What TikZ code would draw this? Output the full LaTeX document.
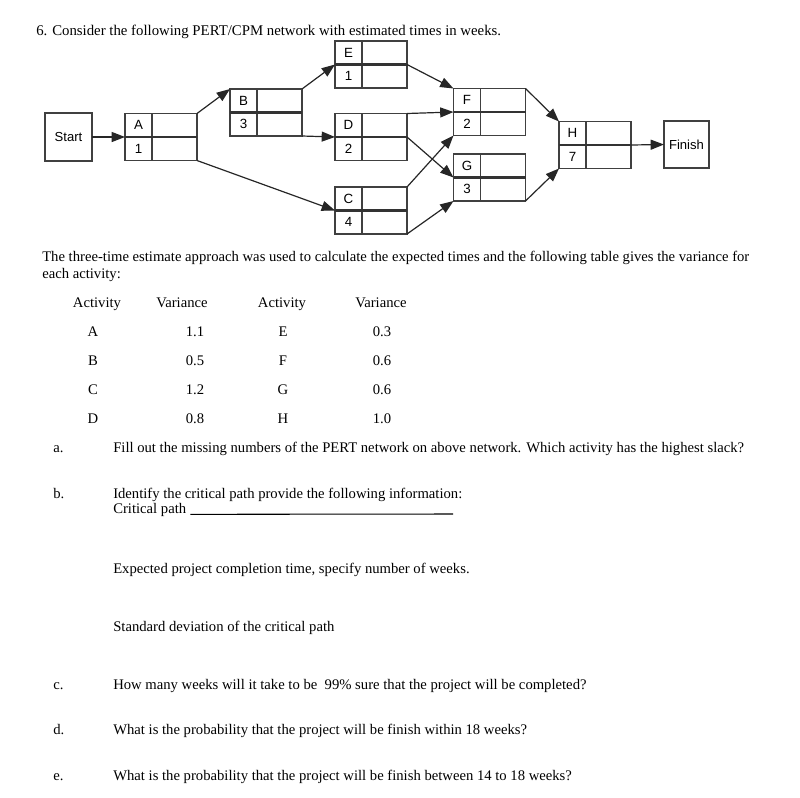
\documentclass[tikz,border=0pt]{standalone}
\usepackage{fontspec}
\setmainfont{Liberation Serif}
\newfontfamily\arial{Liberation Sans}
\usetikzlibrary{arrows.meta}
\begin{document}
\begin{tikzpicture}[x=0.75pt,y=-0.75pt]
% Styles
\tikzstyle{fleche}=[-{Triangle[length=10pt,width=7.5pt]},line width=0.9pt,black!85]
\tikzstyle{boite}=[draw=black!75,line width=1.1pt,minimum width=54pt,minimum height=35.25pt,inner sep=0pt,outer sep=0pt]
\tikzstyle{carre}=[boite,minimum width=35pt,font=\arial\fontsize{9.8}{11}\selectfont]
\tikzstyle{trait}=[draw=black!75,line width=1.1pt]
\tikzstyle{milieu}=[draw=black!80,line width=1.8pt]
\tikzstyle{case}=[font=\arial\fontsize{10}{11}\selectfont,inner sep=0pt]
\tikzstyle{titre}=[anchor=base west,inner sep=0pt,font=\fontsize{11.1}{13}\selectfont]
\tikzstyle{texte}=[anchor=base west,inner sep=0pt,font=\fontsize{11}{12}\selectfont]
\tikzstyle{tableau}=[anchor=base,inner sep=0pt,font=\fontsize{11}{12}\selectfont]
\tikzstyle{question}=[anchor=base west,inner sep=0pt,font=\fontsize{11}{13}\selectfont]
% Dimensions
\def\LargeurCase{20.25pt}
\def\DemiCase{10.1pt}
\def\DemiHauteur{8.8pt}
% Boite d'activite : nom, position, lettre, duree
\def\Activite#1#2#3#4{%
\node[boite] (#1) at (#2) {};
\draw[trait] ([xshift=\LargeurCase]#1.north west) -- ([xshift=\LargeurCase]#1.south west);
\draw[milieu] (#1.west) -- (#1.east);
\node[case] at ([xshift=\DemiCase,yshift=-\DemiHauteur]#1.north west) {#3};
\node[case] at ([xshift=\DemiCase,yshift=\DemiHauteur]#1.south west) {#4};
}
\useasboundingbox (0,0) rectangle (800,797);
% Titre
\node[titre] (titre) at (36,35) {6. Consider the following PERT/CPM network with estimated times in weeks.};
% Noeuds
\node[carre,minimum height=36pt] (Start) at (68.5,137) {Start};
\Activite{A}{161,137}{A}{1}
\Activite{B}{266,112.5}{B}{3}
\Activite{E}{371,64.5}{E}{1}
\Activite{D}{371,137}{D}{2}
\Activite{C}{371,210.5}{C}{4}
\Activite{F}{489.5,112}{F}{2}
\Activite{G}{489.5,177.5}{G}{3}
\Activite{H}{595,145}{H}{7}
\node[carre,minimum width=33.75pt] (Finish) at (686.5,144.5) {Finish};
% Arcs
\draw[fleche] (Start.east) -- (A.west);
\draw[fleche] (A.north east) -- (B.north west);
\draw[fleche] (A.south east) -- (C.west);
\draw[fleche] (B.north east) -- (E.west);
\draw[fleche] (B.south east) -- (D.west);
\draw[fleche] (E.east) -- (F.north west);
\draw[fleche] (D.north east) -- (F.west);
\draw[fleche] (D.east) -- (G.west);
\draw[fleche] (C.north east) -- (F.south west);
\draw[fleche] (C.south east) -- (G.south west);
\draw[fleche] (F.north east) -- (H.north west);
\draw[fleche] (G.south east) -- (H.south west);
\draw[fleche] (H.east) -- (Finish.west);
% Texte
\node[texte] (intro1) at (42,261) {The three-time estimate approach was used to calculate the expected times and the following table gives the variance for};
\node[texte] (intro2) at (42,278) {each activity:};
% Tableau
\node[tableau] (h1) at (97,307) {Activity};
\node[tableau] (h2) at (182,307) {Variance};
\node[tableau] (h3) at (282,307) {Activity};
\node[tableau] (h4) at (381,307) {Variance};
\foreach \act/\var/\actb/\varb [count=\i] in {A/1.1/E/0.3, B/0.5/F/0.6, C/1.2/G/0.6, D/0.8/H/1.0}{
  \node[tableau] (a\i) at (93,307+29*\i) {\act};
  \node[tableau] (v\i) at (195,307+29*\i) {\var};
  \node[tableau] (b\i) at (283,307+29*\i) {\actb};
  \node[tableau] (w\i) at (382,307+29*\i) {\varb};
}
% Questions
\node[question] (qa) at (53,452) {a.};
\node[question] (ta) at (113,452) {Fill out the missing numbers of the PERT network on above network. Which activity has the highest slack?};
\node[question] (qb) at (53,498) {b.};
\node[question] (tb) at (113,498) {Identify the critical path provide the following information:};
\node[question] (cp) at (113,513) {Critical path};
\draw[line width=0.8pt] ([xshift=3pt,yshift=-1pt]cp.base east) -- (453,514);
\node[question] (tb2) at (113,573) {Expected project completion time, specify number of weeks.};
\node[question] (tb3) at (113,631) {Standard deviation of the critical path};
\node[question] (qc) at (53,689) {c.};
\node[question] (tc) at (113,689) {How many weeks will it take to be \ 99\% sure that the project will be completed?};
\node[question] (qd) at (53,734) {d.};
\node[question] (td) at (113,734) {What is the probability that the project will be finish within 18 weeks?};
\node[question] (qe) at (53,780) {e.};
\node[question] (te) at (113,780) {What is the probability that the project will be finish between 14 to 18 weeks?};
\end{tikzpicture}
\end{document}
